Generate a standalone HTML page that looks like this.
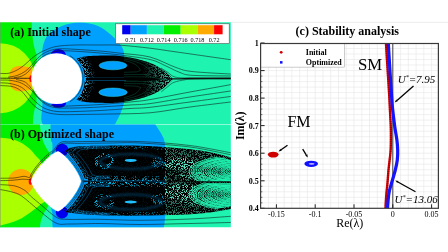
<!DOCTYPE html>
<html><head><meta charset="utf-8"><style>
html,body{margin:0;padding:0;background:#fff;width:448px;height:252px;overflow:hidden}
svg{display:block}
.s{font-family:"Liberation Serif",serif;fill:#000}
</style></head><body>
<svg width="448" height="252" viewBox="0 0 448 252">
<defs><clipPath id="ca"><rect x="0" y="22" width="230.8" height="102.5"/></clipPath><clipPath id="cb"><rect x="0" y="124.5" width="230.8" height="102.7"/></clipPath><clipPath id="cla"><rect x="0" y="0" width="124" height="130"/></clipPath><clipPath id="cra"><rect x="124" y="0" width="120" height="130"/></clipPath><clipPath id="clb"><rect x="0" y="120" width="165.5" height="130"/></clipPath><clipPath id="crb"><rect x="165.5" y="120" width="120" height="130"/></clipPath><filter id="spkB" x="0" y="0" width="1" height="1" filterUnits="objectBoundingBox"><feTurbulence type="fractalNoise" baseFrequency="1.1" numOctaves="2" seed="3"/><feColorMatrix type="matrix" values="0 0 0 0 0.039 0 0 0 0 0.518 0 0 0 0 0.847 9 0 0 0 -4.6"/></filter><filter id="spkA" x="0" y="0" width="1" height="1" filterUnits="objectBoundingBox"><feTurbulence type="fractalNoise" baseFrequency="1.1" numOctaves="2" seed="7"/><feColorMatrix type="matrix" values="0 0 0 0 0.118 0 0 0 0 0.957 0 0 0 0 0.690 9 0 0 0 -4.2"/></filter><filter id="spkB2" x="0" y="0" width="1" height="1" filterUnits="objectBoundingBox"><feTurbulence type="fractalNoise" baseFrequency="1.1" numOctaves="2" seed="11"/><feColorMatrix type="matrix" values="0 0 0 0 0.000 0 0 0 0 0.627 0 0 0 0 1.000 9 0 0 0 -4.8"/></filter><filter id="spkA2" x="0" y="0" width="1" height="1" filterUnits="objectBoundingBox"><feTurbulence type="fractalNoise" baseFrequency="1.1" numOctaves="2" seed="5"/><feColorMatrix type="matrix" values="0 0 0 0 0.118 0 0 0 0 0.957 0 0 0 0 0.690 9 0 0 0 -4.4"/></filter><filter id="blr" x="-0.2" y="-0.5" width="1.4" height="2"><feGaussianBlur stdDeviation="0.8"/></filter><filter id="spkB3" x="-0.1" y="-2" width="1.2" height="5"><feGaussianBlur stdDeviation="0.3"/></filter><linearGradient id="gB1" x1="66" x2="166" y1="0" y2="0" gradientUnits="userSpaceOnUse"><stop offset="0" stop-color="#fff" stop-opacity="1"/><stop offset="0.3" stop-color="#fff" stop-opacity="0.6"/><stop offset="1" stop-color="#fff" stop-opacity="0.5"/></linearGradient><mask id="mB1" maskUnits="userSpaceOnUse" x="0" y="0" width="448" height="252"><rect x="60" y="140" width="106" height="80" fill="url(#gB1)"/></mask><linearGradient id="fadeA" x1="142" x2="180" y1="0" y2="0" gradientUnits="userSpaceOnUse"><stop offset="0" stop-color="#fff" stop-opacity="0"/><stop offset="1" stop-color="#fff" stop-opacity="1"/></linearGradient><radialGradient id="nearCyl" cx="56.6" cy="78.7" r="42" gradientUnits="userSpaceOnUse"><stop offset="0.6" stop-color="#fff" stop-opacity="1"/><stop offset="0.7" stop-color="#fff" stop-opacity="0.9"/><stop offset="0.93" stop-color="#fff" stop-opacity="0"/></radialGradient><mask id="mA" maskUnits="userSpaceOnUse" x="0" y="0" width="448" height="252"><rect x="120" y="40" width="60" height="80" fill="url(#fadeA)"/></mask><mask id="mC" maskUnits="userSpaceOnUse" x="0" y="0" width="448" height="252"><rect x="60" y="40" width="50" height="80" fill="url(#nearCyl)"/></mask></defs>
<g clip-path="url(#ca)">
<rect x="0" y="22" width="231" height="102" fill="#1ef4b0"/>
<path d="M0,22 L31.7,22 C32,34 33,46 36.5,54 L36.5,104 C33.5,111 33,117 33,124 L0,124Z" fill="#00f000"/>
<circle cx="0" cy="78.2" r="35" fill="#aaff00"/>
<path d="M42.6,124 C39.7,118.7 42.7,110.7 42.6,100 C42.5,89.3 42.2,69 42.3,60 C42.4,51 42,50.2 43,46 C44,41.8 45.3,37.8 48.5,34.5 C51.7,31.2 56.8,28 62,26 C67.2,24 74,22.6 80,22.6 C86,22.6 93,24.1 98,26 C103,27.9 106.7,31.3 110,34 C113.3,36.7 115.7,39 118,42 C120.3,45 122.8,46.5 123.8,52 C124.8,57.5 124.2,67 124.3,75 C124.4,83 124.7,94.2 124.3,100 C123.9,105.8 122.8,107 121.8,110 C120.8,113 119.4,115.7 118.3,118 C117.2,120.3 116.2,121.7 115.2,124 C114.2,126.3 121.2,130.7 112,132 C102.8,133.3 71.6,133.3 60,132 C48.4,130.7 45.5,129.3 42.6,124Z" fill="#00a0ff"/>
<path d="M9,78.6 C9,75.8 9.7,72 11,70 C12.3,68 14.7,66.9 17,66.3 C19.3,65.7 22.5,65.9 25,66.5 C27.5,67.1 30.8,66.6 32,70 C33.2,73.4 33.2,83.5 32,87 C30.8,90.5 27.5,90.1 25,90.8 C22.5,91.5 19.3,91.6 17,91 C14.7,90.4 12.3,89.1 11,87 C9.7,84.9 9,81.4 9,78.6Z" fill="#ffaa00"/>
<ellipse cx="31" cy="78.7" rx="1.6" ry="3.4" fill="#ff0000"/>
<ellipse cx="58.3" cy="54.5" rx="7.4" ry="5.4" fill="#0000f0"/>
<ellipse cx="58.6" cy="102.5" rx="7.6" ry="5.3" fill="#0000f0"/>
<path d="M76.5,58.8 L77.07,58.59 L77.83,58.3 L78.75,57.96 L79.78,57.61 L80.88,57.27 L82,57 L83.17,56.78 L84.41,56.59 L85.72,56.41 L87.09,56.26 L88.52,56.12 L90,56 L91.49,55.89 L93,55.81 L94.56,55.74 L96.22,55.68 L98.02,55.64 L100,55.6 L102.23,55.56 L104.7,55.51 L107.31,55.48 L109.96,55.47 L112.56,55.5 L115,55.6 L117.27,55.76 L119.44,55.96 L121.56,56.21 L123.67,56.5 L125.8,56.83 L128,57.2 L130.3,57.62 L132.67,58.08 L135.06,58.58 L137.44,59.12 L139.77,59.7 L142,60.3 L144.15,60.93 L146.26,61.6 L148.31,62.31 L150.3,63.04 L152.2,63.81 L154,64.6 L155.71,65.44 L157.33,66.33 L158.88,67.26 L160.33,68.19 L161.71,69.11 L163,70 L164.21,70.86 L165.33,71.72 L166.38,72.57 L167.33,73.4 L168.21,74.21 L169,75 L169.85,75.82 L170.78,76.67 L171.62,77.51 L172.22,78.26 L172.4,78.88 L172,79.3 L170.96,79.47 L169.41,79.42 L167.44,79.24 L165.15,78.99 L162.64,78.75 L160,78.6 L157.13,78.53 L153.93,78.47 L150.5,78.42 L146.96,78.38 L143.43,78.34 L140,78.3 L136.72,78.26 L133.52,78.22 L130.31,78.18 L127.04,78.15 L123.62,78.12 L120,78.1 L115.95,78.09 L111.48,78.08 L106.88,78.08 L102.41,78.09 L98.36,78.09 L95,78.1 L92.35,78.11 L90.19,78.13 L88.44,78.15 L87.04,78.17 L85.91,78.19 L85,78.2 L84.76,77.22 L84.45,74.29 L83.84,71.4 L82.93,68.59 L81.73,65.9 L80.25,63.34 L78.52,60.95 L76.54,58.76Z" fill="#000"/>
<path d="M76.5,99.6 L77.07,99.81 L77.83,100.1 L78.75,100.44 L79.78,100.79 L80.88,101.13 L82,101.4 L83.17,101.62 L84.41,101.81 L85.72,101.99 L87.09,102.14 L88.52,102.28 L90,102.4 L91.49,102.51 L93,102.59 L94.56,102.66 L96.22,102.72 L98.02,102.76 L100,102.8 L102.23,102.84 L104.7,102.89 L107.31,102.93 L109.96,102.93 L112.56,102.9 L115,102.8 L117.27,102.64 L119.44,102.44 L121.56,102.19 L123.67,101.9 L125.8,101.57 L128,101.2 L130.3,100.78 L132.67,100.32 L135.06,99.82 L137.44,99.28 L139.77,98.7 L142,98.1 L144.15,97.47 L146.26,96.8 L148.31,96.09 L150.3,95.36 L152.2,94.59 L154,93.8 L155.71,92.96 L157.33,92.07 L158.88,91.14 L160.33,90.21 L161.71,89.29 L163,88.4 L164.21,87.54 L165.33,86.68 L166.38,85.83 L167.33,85 L168.21,84.19 L169,83.4 L169.85,82.58 L170.78,81.73 L171.62,80.89 L172.22,80.14 L172.4,79.52 L172,79.1 L170.96,78.93 L169.41,78.98 L167.44,79.16 L165.15,79.41 L162.64,79.65 L160,79.8 L157.13,79.87 L153.93,79.93 L150.5,79.98 L146.96,80.02 L143.43,80.06 L140,80.1 L136.72,80.14 L133.52,80.18 L130.31,80.22 L127.04,80.25 L123.62,80.28 L120,80.3 L115.95,80.31 L111.48,80.32 L106.88,80.32 L102.41,80.31 L98.36,80.31 L95,80.3 L92.35,80.29 L90.19,80.27 L88.44,80.25 L87.04,80.23 L85.91,80.21 L85,80.2 L84.76,81.18 L84.45,84.11 L83.84,87 L82.93,89.81 L81.73,92.5 L80.25,95.06 L78.52,97.45 L76.54,99.64Z" fill="#000"/>
<clipPath id="wkA"><path d="M76.5,58.8 L77.07,58.59 L77.83,58.3 L78.75,57.96 L79.78,57.61 L80.88,57.27 L82,57 L83.17,56.78 L84.41,56.59 L85.72,56.41 L87.09,56.26 L88.52,56.12 L90,56 L91.49,55.89 L93,55.81 L94.56,55.74 L96.22,55.68 L98.02,55.64 L100,55.6 L102.23,55.56 L104.7,55.51 L107.31,55.48 L109.96,55.47 L112.56,55.5 L115,55.6 L117.27,55.76 L119.44,55.96 L121.56,56.21 L123.67,56.5 L125.8,56.83 L128,57.2 L130.3,57.62 L132.67,58.08 L135.06,58.58 L137.44,59.12 L139.77,59.7 L142,60.3 L144.15,60.93 L146.26,61.6 L148.31,62.31 L150.3,63.04 L152.2,63.81 L154,64.6 L155.71,65.44 L157.33,66.33 L158.88,67.26 L160.33,68.19 L161.71,69.11 L163,70 L164.21,70.86 L165.33,71.72 L166.38,72.57 L167.33,73.4 L168.21,74.21 L169,75 L169.85,75.82 L170.78,76.67 L171.62,77.51 L172.22,78.26 L172.4,78.88 L172,79.3 L170.96,79.47 L169.41,79.42 L167.44,79.24 L165.15,78.99 L162.64,78.75 L160,78.6 L157.13,78.53 L153.93,78.47 L150.5,78.42 L146.96,78.38 L143.43,78.34 L140,78.3 L136.72,78.26 L133.52,78.22 L130.31,78.18 L127.04,78.15 L123.62,78.12 L120,78.1 L115.95,78.09 L111.48,78.08 L106.88,78.08 L102.41,78.09 L98.36,78.09 L95,78.1 L92.35,78.11 L90.19,78.13 L88.44,78.15 L87.04,78.17 L85.91,78.19 L85,78.2 L84.76,77.22 L84.45,74.29 L83.84,71.4 L82.93,68.59 L81.73,65.9 L80.25,63.34 L78.52,60.95 L76.54,58.76Z"/><path d="M76.5,99.6 L77.07,99.81 L77.83,100.1 L78.75,100.44 L79.78,100.79 L80.88,101.13 L82,101.4 L83.17,101.62 L84.41,101.81 L85.72,101.99 L87.09,102.14 L88.52,102.28 L90,102.4 L91.49,102.51 L93,102.59 L94.56,102.66 L96.22,102.72 L98.02,102.76 L100,102.8 L102.23,102.84 L104.7,102.89 L107.31,102.93 L109.96,102.93 L112.56,102.9 L115,102.8 L117.27,102.64 L119.44,102.44 L121.56,102.19 L123.67,101.9 L125.8,101.57 L128,101.2 L130.3,100.78 L132.67,100.32 L135.06,99.82 L137.44,99.28 L139.77,98.7 L142,98.1 L144.15,97.47 L146.26,96.8 L148.31,96.09 L150.3,95.36 L152.2,94.59 L154,93.8 L155.71,92.96 L157.33,92.07 L158.88,91.14 L160.33,90.21 L161.71,89.29 L163,88.4 L164.21,87.54 L165.33,86.68 L166.38,85.83 L167.33,85 L168.21,84.19 L169,83.4 L169.85,82.58 L170.78,81.73 L171.62,80.89 L172.22,80.14 L172.4,79.52 L172,79.1 L170.96,78.93 L169.41,78.98 L167.44,79.16 L165.15,79.41 L162.64,79.65 L160,79.8 L157.13,79.87 L153.93,79.93 L150.5,79.98 L146.96,80.02 L143.43,80.06 L140,80.1 L136.72,80.14 L133.52,80.18 L130.31,80.22 L127.04,80.25 L123.62,80.28 L120,80.3 L115.95,80.31 L111.48,80.32 L106.88,80.32 L102.41,80.31 L98.36,80.31 L95,80.3 L92.35,80.29 L90.19,80.27 L88.44,80.25 L87.04,80.23 L85.91,80.21 L85,80.2 L84.76,81.18 L84.45,84.11 L83.84,87 L82.93,89.81 L81.73,92.5 L80.25,95.06 L78.52,97.45 L76.54,99.64Z"/></clipPath>
<g clip-path="url(#wkA)"><rect x="120" y="50" width="55" height="60" filter="url(#spkA)" mask="url(#mA)"/><rect x="66" y="50" width="40" height="60" filter="url(#spkB)" mask="url(#mC)"/></g>
<path d="M136.89,65.5 L138.97,67.77 L140.44,70.34 L136.93,71.91 L131.06,72.07 L127.42,72.22 L124.82,72.32 L122.84,72.39 L121.27,72.44 L119.98,72.48 L118.88,72.5 L117.92,72.52 L117.06,72.54 L116.29,72.55 L115.57,72.56 L114.89,72.56 L114.25,72.57 L113.62,72.57 L113,72.57 L112.38,72.57 L111.75,72.56 L111.11,72.56 L110.43,72.55 L109.72,72.54 L108.94,72.53 L108.09,72.51 L107.14,72.49 L106.04,72.46 L104.76,72.42 L103.2,72.36 L101.25,72.28 L98.67,72.18 L97.41,71.17 L96.29,69.98 L95.04,68.67 L93.86,67.17 L93.07,65.5 L92.8,63.73 L92.68,61.92 L95.38,60.78 L98.42,60.19 L100.95,59.88 L102.95,59.7 L104.56,59.59 L105.87,59.52 L106.96,59.46 L107.9,59.42 L108.72,59.39 L109.46,59.37 L110.13,59.35 L110.76,59.34 L111.35,59.33 L111.91,59.33 L112.46,59.33 L113,59.34 L113.54,59.36 L114.08,59.37 L114.64,59.39 L115.21,59.42 L115.82,59.46 L116.46,59.51 L117.16,59.56 L117.92,59.63 L118.77,59.73 L119.74,59.84 L120.86,60 L122.18,60.2 L123.77,60.48 L125.7,60.88 L128.07,61.46 L130.89,62.35 L133.99,63.66Z" fill="none" stroke="#1ef4b0" stroke-width="0.35" opacity="0.5" clip-path="url(#cra)"/>
<path d="M144.17,65.5 L148.13,68.57 L151.61,72.31 L146.73,74.54 L137.74,74.5 L132.44,74.56 L128.76,74.6 L126.03,74.62 L123.89,74.64 L122.15,74.65 L120.69,74.66 L119.42,74.67 L118.3,74.68 L117.28,74.68 L116.34,74.69 L115.46,74.69 L114.62,74.69 L113.8,74.69 L113,74.69 L112.2,74.69 L111.38,74.69 L110.54,74.68 L109.66,74.68 L108.72,74.67 L107.71,74.67 L106.59,74.66 L105.33,74.64 L103.88,74.62 L102.15,74.6 L100.05,74.57 L97.36,74.53 L93.71,74.49 L92.49,72.97 L91.65,71.22 L90.64,69.44 L89.58,67.55 L88.62,65.5 L87.76,63.29 L86.6,60.85 L90.09,59.36 L94.22,58.67 L97.62,58.33 L100.28,58.16 L102.38,58.06 L104.06,58 L105.45,57.95 L106.64,57.92 L107.67,57.89 L108.59,57.87 L109.44,57.86 L110.22,57.85 L110.95,57.85 L111.65,57.85 L112.33,57.86 L113,57.87 L113.67,57.89 L114.34,57.92 L115.02,57.95 L115.73,57.99 L116.48,58.04 L117.27,58.11 L118.12,58.19 L119.05,58.28 L120.09,58.41 L121.27,58.56 L122.63,58.76 L124.23,59.02 L126.17,59.36 L128.56,59.84 L131.54,60.53 L135.23,61.58 L139.58,63.17Z" fill="none" stroke="#1ef4b0" stroke-width="0.35" opacity="0.5" clip-path="url(#cra)"/>
<path d="M151.45,65.5 L157.29,69.38 L162.78,74.28 L156.53,77.16 L144.42,76.94 L137.45,76.9 L132.7,76.87 L129.21,76.85 L126.51,76.84 L124.33,76.83 L122.5,76.82 L120.93,76.82 L119.53,76.82 L118.28,76.82 L117.12,76.81 L116.03,76.81 L114.99,76.81 L113.99,76.81 L113,76.81 L112.01,76.81 L111.01,76.81 L109.97,76.81 L108.89,76.81 L107.73,76.8 L106.48,76.8 L105.09,76.8 L103.52,76.79 L101.71,76.79 L99.55,76.78 L96.9,76.78 L93.47,76.77 L88.76,76.8 L87.57,74.76 L87.01,72.46 L86.24,70.22 L85.3,67.92 L84.17,65.5 L82.72,62.85 L80.52,59.77 L84.8,57.94 L90.02,57.14 L94.3,56.78 L97.61,56.61 L100.2,56.54 L102.26,56.49 L103.95,56.45 L105.38,56.41 L106.62,56.39 L107.73,56.37 L108.74,56.37 L109.67,56.36 L110.55,56.36 L111.39,56.37 L112.2,56.38 L113,56.4 L113.79,56.43 L114.59,56.46 L115.41,56.51 L116.25,56.57 L117.14,56.63 L118.07,56.71 L119.08,56.81 L120.19,56.93 L121.41,57.09 L122.8,57.27 L124.4,57.52 L126.29,57.83 L128.57,58.24 L131.41,58.8 L135.01,59.6 L139.58,60.81 L145.18,62.68Z" fill="none" stroke="#1ef4b0" stroke-width="0.35" opacity="0.5" clip-path="url(#cra)"/>
<path d="M137.27,92.3 L134.45,94.18 L131.33,95.53 L128.48,96.45 L126.07,97.06 L124.09,97.47 L122.46,97.76 L121.1,97.97 L119.95,98.14 L118.96,98.26 L118.08,98.36 L117.29,98.43 L116.58,98.49 L115.91,98.54 L115.29,98.58 L114.69,98.61 L114.12,98.64 L113.56,98.65 L113,98.67 L112.44,98.68 L111.88,98.68 L111.29,98.68 L110.68,98.67 L110.03,98.66 L109.34,98.64 L108.58,98.62 L107.72,98.59 L106.76,98.54 L105.63,98.49 L104.27,98.41 L102.61,98.3 L100.55,98.11 L97.97,97.77 L94.99,97.13 L92.91,95.84 L92.96,94.05 L93.18,92.3 L93.94,90.63 L95.1,89.14 L96.34,87.83 L97.43,86.63 L99.13,85.83 L101.62,85.73 L103.5,85.65 L105.01,85.59 L106.25,85.55 L107.31,85.52 L108.24,85.5 L109.06,85.48 L109.81,85.47 L110.51,85.46 L111.16,85.45 L111.79,85.45 L112.4,85.44 L113,85.44 L113.6,85.44 L114.21,85.44 L114.84,85.45 L115.49,85.45 L116.19,85.46 L116.94,85.47 L117.77,85.49 L118.7,85.51 L119.76,85.54 L121.02,85.57 L122.54,85.62 L124.45,85.69 L126.96,85.79 L130.46,85.95 L135.95,86.15 L140.71,87.41 L139.31,90Z" fill="none" stroke="#1ef4b0" stroke-width="0.35" opacity="0.5" clip-path="url(#cra)"/>
<path d="M144.83,92.3 L140.37,94.69 L136,96.35 L132.25,97.46 L129.18,98.19 L126.72,98.7 L124.71,99.06 L123.05,99.34 L121.63,99.55 L120.41,99.71 L119.33,99.84 L118.35,99.95 L117.46,100.03 L116.64,100.1 L115.86,100.16 L115.12,100.2 L114.4,100.24 L113.7,100.27 L113,100.29 L112.3,100.3 L111.59,100.31 L110.85,100.31 L110.09,100.31 L109.27,100.3 L108.39,100.29 L107.42,100.27 L106.34,100.24 L105.1,100.2 L103.64,100.15 L101.88,100.09 L99.69,99.98 L96.94,99.79 L93.46,99.41 L89.41,98.62 L86.99,96.89 L88.04,94.48 L88.81,92.3 L89.72,90.26 L90.75,88.38 L91.72,86.6 L92.53,84.85 L94.51,83.68 L97.99,83.64 L100.57,83.59 L102.58,83.56 L104.24,83.54 L105.63,83.52 L106.84,83.5 L107.92,83.49 L108.89,83.49 L109.79,83.48 L110.64,83.48 L111.44,83.47 L112.23,83.47 L113,83.47 L113.77,83.47 L114.56,83.47 L115.37,83.47 L116.21,83.47 L117.11,83.48 L118.09,83.48 L119.17,83.49 L120.39,83.5 L121.79,83.51 L123.46,83.52 L125.51,83.54 L128.12,83.57 L131.64,83.61 L136.72,83.67 L145.05,83.71 L152.08,85.41 L148.71,89.18Z" fill="none" stroke="#1ef4b0" stroke-width="0.35" opacity="0.5" clip-path="url(#cra)"/>
<path d="M152.38,92.3 L146.3,95.21 L140.66,97.18 L136.02,98.47 L132.3,99.33 L129.35,99.92 L126.96,100.36 L124.99,100.7 L123.32,100.96 L121.86,101.16 L120.58,101.33 L119.41,101.46 L118.35,101.57 L117.36,101.66 L116.43,101.73 L115.54,101.79 L114.68,101.84 L113.84,101.88 L113,101.91 L112.16,101.93 L111.3,101.94 L110.41,101.95 L109.49,101.95 L108.5,101.94 L107.44,101.93 L106.27,101.91 L104.96,101.89 L103.45,101.85 L101.66,101.81 L99.49,101.76 L96.78,101.67 L93.33,101.47 L88.94,101.06 L83.84,100.11 L81.07,97.93 L83.12,94.91 L84.44,92.3 L85.5,89.89 L86.4,87.61 L87.11,85.36 L87.62,83.06 L89.89,81.52 L94.37,81.54 L97.63,81.54 L100.16,81.53 L102.22,81.52 L103.95,81.52 L105.45,81.51 L106.77,81.51 L107.97,81.51 L109.07,81.5 L110.11,81.5 L111.1,81.5 L112.06,81.5 L113,81.5 L113.95,81.5 L114.9,81.5 L115.89,81.5 L116.93,81.5 L118.04,81.49 L119.24,81.49 L120.57,81.49 L122.07,81.49 L123.82,81.48 L125.9,81.48 L128.47,81.47 L131.8,81.45 L136.33,81.42 L142.97,81.39 L154.15,81.27 L163.44,83.41 L158.11,88.35Z" fill="none" stroke="#1ef4b0" stroke-width="0.35" opacity="0.5" clip-path="url(#cra)"/>
<ellipse cx="113" cy="65.5" rx="13.9" ry="4.3" fill="#00a0ff" stroke="#30d0e0" stroke-width="0.5"/>
<ellipse cx="113" cy="92.3" rx="14.2" ry="4.3" fill="#00a0ff" stroke="#30d0e0" stroke-width="0.5"/>
<path d="M86,77.8 L150,77.8 L168,79 L150,80.8 L86,80.8Z" fill="#000"/>
<line x1="84" y1="80.3" x2="126" y2="80.3" stroke="#00a0ff" stroke-width="0.5" opacity="0.8"/>
<line x1="84" y1="77.6" x2="124" y2="77.6" stroke="#00a0ff" stroke-width="0.4" opacity="0.5"/>
<path d="M69.9,55.7 A26.6,26.6 0 0 1 69.9,101.7" fill="none" stroke="#000" stroke-width="0.5"/>
<path d="M0,73.4 C1.5,73.4 6,73.9 9,73.2 C12,72.5 15.3,71 18,69.5 C20.7,68 22.8,66.2 25,64.5 C27.2,62.8 29,60.7 31,59 C33,57.3 34.7,56 37,54.5 C39.3,53 41.8,51.6 45,50.3 C48.2,49 51,47.4 56,46.5 C61,45.6 67.7,45.2 75,45 C82.3,44.8 92.5,45 100,45 C107.5,45 111.7,44.7 120,45.2 C128.3,45.7 140.7,47.1 150,48.2 C159.3,49.3 162.3,50 176,51.9 C189.7,53.8 222.7,58.6 232,59.9" stroke="#111" stroke-width="0.55" fill="none" opacity="1"/>
<path d="M8,77.2 C9.5,76.9 14.2,76.5 17,75.5 C19.8,74.5 22.7,73.1 25,71.5 C27.3,69.9 29.2,67.9 31,66 C32.8,64.1 34.2,61.9 36,60 C37.8,58.1 39.7,56.1 42,54.5 C44.3,52.9 47,51.5 50,50.5 C53,49.5 55.8,49 60,48.8 C64.2,48.6 68.3,48.9 75,49.3 C81.7,49.7 92.5,50.4 100,51 C107.5,51.6 111.7,52.2 120,53.2 C128.3,54.2 140.7,54.6 150,57 C159.3,59.4 169,65.1 176,67.5 C183,69.9 182.7,70.4 192,71.5 C201.3,72.6 225.3,73.7 232,74.1" stroke="#111" stroke-width="0.55" fill="none" opacity="1"/>
<path d="M14,77.8 C15.3,77.5 19.7,77 22,76 C24.3,75 26.2,73.7 28,72 C29.8,70.3 31.3,67.9 33,66 C34.7,64.1 36,62.3 38,60.5 C40,58.7 42.5,56.4 45,55 C47.5,53.6 50.2,52.7 53,52 C55.8,51.3 57.5,50.9 62,50.8 C66.5,50.7 73.7,51.1 80,51.5 C86.3,51.9 93.3,52.4 100,53 C106.7,53.6 111.7,53.9 120,55 C128.3,56.1 142.3,57.7 150,59.5 C157.7,61.3 161,63.8 166,66 C171,68.2 175.7,71 180,72.5 C184.3,74 183.3,74.7 192,75.3 C200.7,75.9 225.3,75.9 232,76" stroke="#111" stroke-width="0.55" fill="none" opacity="1"/>
<path d="M0,80.1 C1.7,80.1 6.7,79.9 10,80.3 C13.3,80.7 17.2,81.5 20,82.5 C22.8,83.5 24.8,84.9 27,86.5 C29.2,88.1 31.2,90.1 33,92 C34.8,93.9 36,96 38,98 C40,100 42.2,102.4 45,104 C47.8,105.6 50,106.9 55,107.6 C60,108.3 67.5,108.1 75,108 C82.5,107.9 90.8,107.5 100,107 C109.2,106.5 121.7,105.6 130,105 C138.3,104.4 140,104.9 150,103.6 C160,102.3 176.3,99.1 190,97 C203.7,94.9 225,91.8 232,90.8" stroke="#111" stroke-width="0.55" fill="none" opacity="1"/>
<path d="M0,82.8 C1.7,82.9 6.7,82.9 10,83.5 C13.3,84.1 17.3,85.2 20,86.5 C22.7,87.8 24.2,89.2 26,91 C27.8,92.8 29.2,95 31,97 C32.8,99 34.7,101.1 37,103 C39.3,104.9 41.7,107.1 45,108.5 C48.3,109.9 52,111 57,111.5 C62,112 67.8,111.7 75,111.5 C82.2,111.3 90.8,111 100,110.5 C109.2,110 121.7,109 130,108.5 C138.3,108 140,108.4 150,107.3 C160,106.2 176.3,103.8 190,102 C203.7,100.2 225,97.2 232,96.3" stroke="#111" stroke-width="0.55" fill="none" opacity="1"/>
<path d="M0,85.5 C2,85.7 8.7,85.8 12,86.5 C15.3,87.2 17.8,88.6 20,90 C22.2,91.4 23.3,93.1 25,95 C26.7,96.9 28,99.3 30,101.5 C32,103.7 34.2,106.2 37,108 C39.8,109.8 43.2,111.4 47,112.5 C50.8,113.6 54.5,114.2 60,114.5 C65.5,114.8 71.7,114.6 80,114.5 C88.3,114.4 98.3,114.3 110,114 C121.7,113.7 136.7,114 150,112.8 C163.3,111.6 176.3,108.8 190,107 C203.7,105.2 225,102.7 232,101.8" stroke="#111" stroke-width="0.55" fill="none" opacity="1"/>
<path d="M16,79.5 C17.3,79.8 21.8,80.5 24,81.5 C26.2,82.5 27.3,83.8 29,85.5 C30.7,87.2 32.2,89.8 34,92 C35.8,94.2 37.7,97 40,99 C42.3,101 45,103.1 48,104.3 C51,105.5 52.7,106 58,106.2 C63.3,106.4 73,105.8 80,105.5 C87,105.2 91.7,105.1 100,104.5 C108.3,103.9 121.7,102.8 130,102 C138.3,101.2 140,101.3 150,99.6 C160,97.9 176.3,94.5 190,92 C203.7,89.5 225,85.7 232,84.4" stroke="#111" stroke-width="0.55" fill="none" opacity="1"/>
<path d="M0,78.2 C5,78.2 25,78.3 30,78.3" stroke="#111" stroke-width="0.8" fill="none" opacity="1"/>
<path d="M166,78.6 C167.5,78.6 171,78.9 175,78.9 C179,78.9 180.5,78.6 190,78.5 C199.5,78.4 225,78.4 232,78.4" stroke="#111" stroke-width="1.3" fill="none" opacity="1"/>
<path d="M161,68 C162.2,68.8 165.7,71 168,72.5 C170.3,74 171.3,76.1 175,77 C178.7,77.9 180.5,77.9 190,78 C199.5,78.1 225,77.8 232,77.8" stroke="#111" stroke-width="0.5" fill="none" opacity="1"/>
<path d="M161.4,91.8 C162.5,90.9 165.9,88.1 168,86.5 C170.1,84.9 171.2,83.4 174,82.3 C176.8,81.2 182,80.3 185,79.8 C188,79.3 184.2,79.3 192,79.2 C199.8,79.1 225.3,79.2 232,79.2" stroke="#111" stroke-width="0.5" fill="none" opacity="1"/>
<circle cx="56.6" cy="78.7" r="25.4" fill="#fff"/>
</g>
<g clip-path="url(#cb)">
<rect x="0" y="123" width="231" height="105" fill="#1ef4b0"/>
<path d="M0,123 L39.8,123 C40.5,135 43,144 49,152 L49,205 C44,212 40,220 40,228 L0,228Z" fill="#00f000"/>
<path d="M-12,137 C-10.3,122.3 -5.3,137.3 -2,137.6 C1.4,137.9 4.5,137.9 8.1,138.6 C11.7,139.3 16,140.3 19.5,141.9 C23,143.5 26.6,146.1 29.3,148.4 C32,150.7 33.8,153.3 35.8,155.7 C37.8,158.1 39.8,158.8 41.5,163 C43.2,167.2 45.2,175 46,181 C46.8,187 47,195 46,199 C45,203 42.5,202.6 40,204.8 C37.5,207 34.7,209.5 31,212 C27.3,214.5 23.2,217.8 18,220 C12.8,222.2 5,224.4 0,225.4 C-5,226.4 -10,240.7 -12,226 C-14,211.3 -13.7,151.7 -12,137Z" fill="#aaff00"/>
<path d="M50.5,110 C33.9,112.1 50.6,118.8 50.6,122.5 C50.6,126.2 50.5,129 50.6,132 C50.7,135 50.7,137.8 51,140.3 C51.3,142.8 52.7,140.4 52.5,147 C52.3,153.6 50.2,170.3 50,180 C49.8,189.7 50.6,199.2 51,205 C51.4,210.8 52.2,211.1 52.5,215 C52.8,218.9 51.8,224.3 53,228.5 C54.2,232.7 42.2,238.1 60,240 C77.8,241.9 142.7,241.9 160,240 C177.3,238.1 162.8,233.2 163.7,228.5 C164.6,223.8 165.2,217.6 165.5,212 C165.8,206.4 165.8,203.7 165.8,195 C165.8,186.3 165.7,168.7 165.5,160 C165.3,151.3 165.3,146.9 164.7,142.6 C164,138.3 163.3,137.7 161.6,134.3 C159.9,131 156.3,126.5 154.4,122.5 C152.5,118.5 167.3,112.1 150,110 C132.7,107.9 67.1,107.9 50.5,110Z" fill="#00a0ff"/>
<circle cx="21" cy="182" r="13" fill="#ffaa00"/>
<ellipse cx="30.5" cy="181.6" rx="1.8" ry="3.2" fill="#ff0000"/>
<circle cx="62.1" cy="150" r="6.3" fill="#0000f0"/>
<circle cx="62" cy="212.3" r="6.2" fill="#0000f0"/>
<path d="M70,147.8 L70.97,147.63 L72.22,147.38 L73.75,147.09 L75.56,146.79 L77.64,146.52 L80,146.3 L82.52,146.14 L85.19,146.01 L88.12,145.91 L91.48,145.82 L95.39,145.75 L100,145.7 L105.51,145.64 L111.85,145.56 L118.75,145.5 L125.93,145.49 L133.1,145.54 L140,145.7 L146.78,145.97 L153.7,146.33 L160.62,146.76 L167.41,147.24 L173.91,147.76 L180,148.3 L185.58,148.83 L190.74,149.36 L195.62,149.92 L200.37,150.56 L205.12,151.31 L210,152.2 L215.35,153.36 L221.11,154.8 L226.88,156.34 L232.22,157.83 L236.74,159.11 L240,160 L246,170 L240,180.3 L240,180.3 L235.76,180.26 L230,180.19 L223.12,180.12 L215.56,180.04 L207.71,179.97 L200,179.9 L192.25,179.84 L184.07,179.79 L175.62,179.74 L167.04,179.7 L158.45,179.65 L150,179.6 L141.23,179.55 L131.93,179.49 L122.62,179.44 L113.85,179.39 L106.13,179.34 L100,179.3 L95.66,179.27 L92.74,179.25 L90.88,179.23 L89.7,179.22 L88.87,179.21 L88,179.2 L84.67,178.61 L84.29,177.49 L83.82,176.26 L83.25,174.93 L82.6,173.52 L81.86,172.05 L81.04,170.52 L80.14,168.95 L79.17,167.36 L78.14,165.75 L77.06,164.15 L75.93,162.55 L74.76,160.99 L73.56,159.46 L72.33,157.98 L71.1,156.57 L69.86,155.22 L68.63,153.95 L67.42,152.77 L66.23,151.68 L65.08,150.7Z" fill="#000"/>
<path d="M88,183.6 L88.87,183.58 L89.7,183.54 L90.88,183.5 L92.74,183.46 L95.66,183.42 L100,183.4 L106.13,183.38 L113.85,183.37 L122.62,183.36 L131.93,183.36 L141.23,183.37 L150,183.4 L158.45,183.44 L167.04,183.49 L175.62,183.56 L184.07,183.63 L192.25,183.71 L200,183.8 L207.71,183.91 L215.56,184.04 L223.12,184.18 L230,184.31 L235.76,184.42 L240,184.5 L246,196 L240,207 L240,207 L235.88,207.77 L230.37,208.88 L223.75,210.18 L216.3,211.5 L208.29,212.69 L200,213.6 L190.98,214.23 L180.93,214.7 L170.31,215.05 L159.63,215.3 L149.36,215.47 L140,215.6 L131.38,215.67 L123.07,215.64 L115.19,215.55 L107.81,215.4 L101.05,215.21 L95,215 L89.63,214.72 L84.85,214.36 L80.69,213.96 L77.15,213.57 L74.25,213.23 L72,213 L65.08,211.9 L66.23,210.92 L67.42,209.83 L68.63,208.65 L69.86,207.38 L71.1,206.03 L72.33,204.62 L73.56,203.14 L74.76,201.61 L75.93,200.05 L77.06,198.45 L78.14,196.85 L79.17,195.24 L80.14,193.65 L81.04,192.08 L81.86,190.55 L82.6,189.08 L83.25,187.67 L83.82,186.34 L84.29,185.11 L84.67,183.99Z" fill="#000"/>
<rect x="88" y="179" width="150" height="5" fill="#000"/>
<clipPath id="wkB"><path d="M70,147.8 L70.97,147.63 L72.22,147.38 L73.75,147.09 L75.56,146.79 L77.64,146.52 L80,146.3 L82.52,146.14 L85.19,146.01 L88.12,145.91 L91.48,145.82 L95.39,145.75 L100,145.7 L105.51,145.64 L111.85,145.56 L118.75,145.5 L125.93,145.49 L133.1,145.54 L140,145.7 L146.78,145.97 L153.7,146.33 L160.62,146.76 L167.41,147.24 L173.91,147.76 L180,148.3 L185.58,148.83 L190.74,149.36 L195.62,149.92 L200.37,150.56 L205.12,151.31 L210,152.2 L215.35,153.36 L221.11,154.8 L226.88,156.34 L232.22,157.83 L236.74,159.11 L240,160 L246,170 L240,180.3 L240,180.3 L235.76,180.26 L230,180.19 L223.12,180.12 L215.56,180.04 L207.71,179.97 L200,179.9 L192.25,179.84 L184.07,179.79 L175.62,179.74 L167.04,179.7 L158.45,179.65 L150,179.6 L141.23,179.55 L131.93,179.49 L122.62,179.44 L113.85,179.39 L106.13,179.34 L100,179.3 L95.66,179.27 L92.74,179.25 L90.88,179.23 L89.7,179.22 L88.87,179.21 L88,179.2 L84.67,178.61 L84.29,177.49 L83.82,176.26 L83.25,174.93 L82.6,173.52 L81.86,172.05 L81.04,170.52 L80.14,168.95 L79.17,167.36 L78.14,165.75 L77.06,164.15 L75.93,162.55 L74.76,160.99 L73.56,159.46 L72.33,157.98 L71.1,156.57 L69.86,155.22 L68.63,153.95 L67.42,152.77 L66.23,151.68 L65.08,150.7Z"/><path d="M88,183.6 L88.87,183.58 L89.7,183.54 L90.88,183.5 L92.74,183.46 L95.66,183.42 L100,183.4 L106.13,183.38 L113.85,183.37 L122.62,183.36 L131.93,183.36 L141.23,183.37 L150,183.4 L158.45,183.44 L167.04,183.49 L175.62,183.56 L184.07,183.63 L192.25,183.71 L200,183.8 L207.71,183.91 L215.56,184.04 L223.12,184.18 L230,184.31 L235.76,184.42 L240,184.5 L246,196 L240,207 L240,207 L235.88,207.77 L230.37,208.88 L223.75,210.18 L216.3,211.5 L208.29,212.69 L200,213.6 L190.98,214.23 L180.93,214.7 L170.31,215.05 L159.63,215.3 L149.36,215.47 L140,215.6 L131.38,215.67 L123.07,215.64 L115.19,215.55 L107.81,215.4 L101.05,215.21 L95,215 L89.63,214.72 L84.85,214.36 L80.69,213.96 L77.15,213.57 L74.25,213.23 L72,213 L65.08,211.9 L66.23,210.92 L67.42,209.83 L68.63,208.65 L69.86,207.38 L71.1,206.03 L72.33,204.62 L73.56,203.14 L74.76,201.61 L75.93,200.05 L77.06,198.45 L78.14,196.85 L79.17,195.24 L80.14,193.65 L81.04,192.08 L81.86,190.55 L82.6,189.08 L83.25,187.67 L83.82,186.34 L84.29,185.11 L84.67,183.99Z"/><rect x="88" y="179" width="150" height="5"/></clipPath>
<g clip-path="url(#wkB)">
<mask id="mB2" maskUnits="userSpaceOnUse" x="0" y="0" width="448" height="252"><rect x="60" y="140" width="106" height="80" fill="#fff" opacity="0.06"/><path d="M70,147.8 L70.97,147.63 L72.22,147.38 L73.75,147.09 L75.56,146.79 L77.64,146.52 L80,146.3 L82.52,146.14 L85.19,146.01 L88.12,145.91 L91.48,145.82 L95.39,145.75 L100,145.7 L105.51,145.64 L111.85,145.56 L118.75,145.5 L125.93,145.49 L133.1,145.54 L140,145.7 L146.78,145.97 L153.7,146.33 L160.62,146.76 L167.41,147.24 L173.91,147.76 L180,148.3 L185.58,148.83 L190.74,149.36 L195.62,149.92 L200.37,150.56 L205.12,151.31 L210,152.2 L215.35,153.36 L221.11,154.8 L226.88,156.34 L232.22,157.83 L236.74,159.11 L240,160 L246,170 L240,180.3 L240,180.3 L235.76,180.26 L230,180.19 L223.12,180.12 L215.56,180.04 L207.71,179.97 L200,179.9 L192.25,179.84 L184.07,179.79 L175.62,179.74 L167.04,179.7 L158.45,179.65 L150,179.6 L141.23,179.55 L131.93,179.49 L122.62,179.44 L113.85,179.39 L106.13,179.34 L100,179.3 L95.66,179.27 L92.74,179.25 L90.88,179.23 L89.7,179.22 L88.87,179.21 L88,179.2 L84.67,178.61 L84.29,177.49 L83.82,176.26 L83.25,174.93 L82.6,173.52 L81.86,172.05 L81.04,170.52 L80.14,168.95 L79.17,167.36 L78.14,165.75 L77.06,164.15 L75.93,162.55 L74.76,160.99 L73.56,159.46 L72.33,157.98 L71.1,156.57 L69.86,155.22 L68.63,153.95 L67.42,152.77 L66.23,151.68 L65.08,150.7Z" stroke="#fff" stroke-width="7" fill="none" opacity="0.4"/><path d="M88,183.6 L88.87,183.58 L89.7,183.54 L90.88,183.5 L92.74,183.46 L95.66,183.42 L100,183.4 L106.13,183.38 L113.85,183.37 L122.62,183.36 L131.93,183.36 L141.23,183.37 L150,183.4 L158.45,183.44 L167.04,183.49 L175.62,183.56 L184.07,183.63 L192.25,183.71 L200,183.8 L207.71,183.91 L215.56,184.04 L223.12,184.18 L230,184.31 L235.76,184.42 L240,184.5 L246,196 L240,207 L240,207 L235.88,207.77 L230.37,208.88 L223.75,210.18 L216.3,211.5 L208.29,212.69 L200,213.6 L190.98,214.23 L180.93,214.7 L170.31,215.05 L159.63,215.3 L149.36,215.47 L140,215.6 L131.38,215.67 L123.07,215.64 L115.19,215.55 L107.81,215.4 L101.05,215.21 L95,215 L89.63,214.72 L84.85,214.36 L80.69,213.96 L77.15,213.57 L74.25,213.23 L72,213 L65.08,211.9 L66.23,210.92 L67.42,209.83 L68.63,208.65 L69.86,207.38 L71.1,206.03 L72.33,204.62 L73.56,203.14 L74.76,201.61 L75.93,200.05 L77.06,198.45 L78.14,196.85 L79.17,195.24 L80.14,193.65 L81.04,192.08 L81.86,190.55 L82.6,189.08 L83.25,187.67 L83.82,186.34 L84.29,185.11 L84.67,183.99Z" stroke="#fff" stroke-width="7" fill="none" opacity="0.4"/><ellipse cx="104" cy="161" rx="8" ry="6" fill="none" stroke="#fff" stroke-width="4" opacity="0.8"/><ellipse cx="104" cy="202" rx="8" ry="6" fill="none" stroke="#fff" stroke-width="4" opacity="0.8"/><ellipse cx="159" cy="163" rx="8" ry="6" fill="#fff" opacity="0.6"/><ellipse cx="159" cy="199" rx="8" ry="6" fill="#fff" opacity="0.6"/><rect x="80" y="179.5" width="90" height="4" fill="#fff" opacity="0.9"/><rect x="86" y="176.5" width="80" height="10" fill="#fff" opacity="0.35"/></mask>
<rect x="60" y="140" width="106" height="80" filter="url(#spkB2)" mask="url(#mB2)"/>
<g filter="url(#blr)" opacity="0.3" clip-path="url(#clb)"><ellipse cx="131" cy="161.5" rx="31" ry="7.5" fill="none" stroke="#00a0ff" stroke-width="2.2"/><ellipse cx="131" cy="202" rx="31" ry="7.5" fill="none" stroke="#00a0ff" stroke-width="2.2"/></g>
<clipPath id="lftB"><rect x="60" y="140" width="50" height="80"/></clipPath>
<path d="M221.6,160.4 L225.5,167.03 L223.27,173.41 L207.61,176.75 L187.15,176.59 L175,176.52 L166.84,176.49 L160.92,176.47 L156.38,176.45 L152.77,176.43 L149.79,176.42 L147.28,176.41 L145.1,176.4 L143.19,176.39 L141.48,176.38 L139.92,176.37 L138.49,176.36 L137.15,176.36 L135.88,176.35 L134.67,176.34 L133.51,176.34 L132.37,176.33 L131.26,176.32 L130.14,176.32 L129.03,176.31 L127.9,176.3 L126.74,176.3 L125.54,176.29 L124.28,176.28 L122.96,176.27 L121.54,176.26 L120.01,176.25 L118.32,176.24 L116.45,176.23 L114.32,176.22 L111.87,176.2 L108.98,176.18 L105.49,176.15 L101.14,176.12 L95.54,176.06 L91.98,174.49 L90.77,171.85 L89.33,169.19 L87.64,166.45 L85.68,163.55 L83.37,160.4 L80.52,156.89 L76.5,152.78 L80.74,149.78 L89.44,148.57 L97.29,148.24 L103.15,148.13 L107.52,148.07 L110.9,148.03 L113.62,147.99 L115.88,147.96 L117.8,147.94 L119.47,147.93 L120.95,147.92 L122.28,147.91 L123.49,147.91 L124.61,147.91 L125.65,147.9 L126.64,147.9 L127.59,147.91 L128.5,147.91 L129.39,147.92 L130.26,147.93 L131.14,147.93 L132.01,147.94 L132.9,147.95 L133.8,147.97 L134.73,147.99 L135.7,148.02 L136.73,148.04 L137.82,148.06 L139,148.1 L140.27,148.15 L141.68,148.21 L143.26,148.27 L145.06,148.35 L147.13,148.46 L149.6,148.59 L152.57,148.77 L156.28,149.01 L161.03,149.36 L167.39,149.88 L176.27,150.71 L188.9,152.22 L204.02,155.27Z" fill="none" stroke="#00a0ff" stroke-width="0.45" opacity="0.8" clip-path="url(#lftB)"/>
<path d="M229.89,160.4 L234.18,167.64 L231.79,174.61 L214.67,178.25 L192.27,178.05 L178.99,177.98 L170.08,177.93 L163.62,177.9 L158.67,177.88 L154.73,177.86 L151.49,177.84 L148.75,177.83 L146.38,177.82 L144.3,177.8 L142.43,177.79 L140.74,177.78 L139.17,177.78 L137.72,177.77 L136.34,177.76 L135.03,177.75 L133.76,177.74 L132.52,177.74 L131.31,177.73 L130.1,177.72 L128.88,177.72 L127.65,177.71 L126.39,177.7 L125.08,177.69 L123.72,177.69 L122.27,177.68 L120.73,177.67 L119.06,177.66 L117.23,177.64 L115.18,177.63 L112.87,177.62 L110.2,177.6 L107.06,177.58 L103.25,177.55 L98.51,177.52 L92.39,177.45 L88.53,175.75 L87.26,172.86 L85.74,169.96 L83.94,166.97 L81.85,163.82 L79.33,160.4 L76.19,156.59 L71.72,152.11 L76.31,148.84 L85.8,147.53 L94.36,147.17 L100.75,147.06 L105.5,147 L109.18,146.96 L112.14,146.92 L114.6,146.89 L116.69,146.87 L118.5,146.85 L120.11,146.84 L121.55,146.84 L122.87,146.84 L124.08,146.83 L125.22,146.83 L126.29,146.83 L127.32,146.83 L128.31,146.84 L129.28,146.85 L130.23,146.86 L131.17,146.86 L132.12,146.87 L133.08,146.88 L134.06,146.91 L135.08,146.93 L136.13,146.95 L137.25,146.98 L138.43,147.01 L139.71,147.04 L141.09,147.1 L142.62,147.16 L144.34,147.23 L146.29,147.32 L148.55,147.43 L151.23,147.57 L154.45,147.77 L158.48,148.03 L163.66,148.4 L170.58,148.96 L180.27,149.86 L194.06,151.49 L210.61,154.81Z" fill="none" stroke="#00a0ff" stroke-width="0.45" opacity="0.8" clip-path="url(#lftB)"/>
<path d="M236.1,160.4 L240.69,168.09 L238.18,175.51 L219.96,179.37 L196.11,179.16 L181.98,179.07 L172.51,179.01 L165.64,178.98 L160.39,178.95 L156.2,178.93 L152.76,178.91 L149.85,178.89 L147.34,178.88 L145.13,178.87 L143.15,178.85 L141.35,178.84 L139.69,178.83 L138.14,178.83 L136.68,178.82 L135.29,178.81 L133.94,178.8 L132.63,178.79 L131.34,178.79 L130.06,178.78 L128.77,178.77 L127.46,178.76 L126.12,178.75 L124.74,178.75 L123.29,178.74 L121.76,178.73 L120.12,178.72 L118.35,178.71 L116.41,178.7 L114.24,178.68 L111.78,178.67 L108.95,178.65 L105.61,178.63 L101.57,178.6 L96.53,178.57 L90.04,178.5 L85.95,176.69 L84.63,173.61 L83.04,170.53 L81.18,167.36 L78.98,164.02 L76.31,160.4 L72.94,156.36 L68.14,151.61 L72.99,148.13 L83.07,146.74 L92.17,146.37 L98.94,146.26 L103.99,146.2 L107.9,146.15 L111.04,146.11 L113.64,146.09 L115.86,146.07 L117.78,146.05 L119.48,146.04 L121.01,146.03 L122.4,146.03 L123.69,146.03 L124.89,146.02 L126.03,146.02 L127.12,146.03 L128.17,146.04 L129.19,146.05 L130.2,146.05 L131.2,146.06 L132.21,146.07 L133.22,146.08 L134.26,146.11 L135.34,146.13 L136.46,146.16 L137.63,146.18 L138.89,146.21 L140.24,146.25 L141.71,146.31 L143.33,146.37 L145.15,146.45 L147.22,146.54 L149.61,146.66 L152.45,146.81 L155.86,147.02 L160.14,147.29 L165.63,147.69 L172.98,148.28 L183.27,149.23 L197.94,150.95 L215.55,154.47Z" fill="none" stroke="#00a0ff" stroke-width="0.45" opacity="0.8" clip-path="url(#lftB)"/>
<path d="M223.64,202 L213.2,207.77 L194.56,210.98 L179.11,212.29 L168.23,212.76 L160.9,212.99 L155.68,213.12 L151.76,213.2 L148.72,213.26 L146.26,213.3 L144.21,213.33 L142.46,213.36 L140.95,213.38 L139.61,213.4 L138.4,213.42 L137.3,213.43 L136.28,213.44 L135.32,213.44 L134.42,213.45 L133.56,213.46 L132.72,213.47 L131.91,213.47 L131.1,213.48 L130.3,213.47 L129.49,213.47 L128.68,213.47 L127.84,213.47 L126.97,213.46 L126.07,213.46 L125.11,213.46 L124.09,213.45 L122.98,213.44 L121.77,213.42 L120.43,213.41 L118.91,213.39 L117.16,213.36 L115.13,213.32 L112.68,213.26 L109.67,213.18 L105.84,213.07 L100.8,212.88 L94.17,212.48 L85.5,211.61 L76.73,209.59 L80.68,205.5 L83.49,202 L85.78,198.86 L87.73,195.96 L89.41,193.22 L90.84,190.57 L92.03,187.93 L96.21,186.64 L101.59,186.52 L105.89,186.5 L109.34,186.48 L112.2,186.47 L114.61,186.47 L116.71,186.46 L118.56,186.46 L120.21,186.45 L121.72,186.45 L123.12,186.45 L124.42,186.45 L125.65,186.45 L126.82,186.45 L127.96,186.45 L129.07,186.45 L130.16,186.45 L131.24,186.45 L132.33,186.45 L133.44,186.45 L134.58,186.45 L135.75,186.45 L136.98,186.46 L138.28,186.46 L139.67,186.46 L141.18,186.47 L142.83,186.47 L144.68,186.48 L146.76,186.49 L149.17,186.5 L152.01,186.52 L155.44,186.54 L159.72,186.57 L165.24,186.62 L172.75,186.69 L183.64,186.82 L200.84,187.09 L222.12,189.15 L225.43,195.38Z" fill="none" stroke="#00a0ff" stroke-width="0.45" opacity="0.8" clip-path="url(#lftB)"/>
<path d="M232.12,202 L220.68,208.29 L200.28,211.78 L183.39,213.2 L171.51,213.7 L163.51,213.94 L157.83,214.08 L153.57,214.16 L150.26,214.22 L147.58,214.27 L145.36,214.3 L143.46,214.33 L141.82,214.35 L140.37,214.37 L139.06,214.39 L137.86,214.4 L136.75,214.41 L135.72,214.42 L134.74,214.42 L133.8,214.43 L132.89,214.44 L132.01,214.44 L131.13,214.45 L130.27,214.45 L129.39,214.44 L128.51,214.44 L127.6,214.44 L126.66,214.44 L125.68,214.43 L124.64,214.43 L123.53,214.43 L122.33,214.41 L121.02,214.39 L119.56,214.38 L117.91,214.36 L116.01,214.33 L113.8,214.28 L111.14,214.22 L107.87,214.14 L103.7,214.02 L98.22,213.82 L90.99,213.39 L81.53,212.45 L71.97,210.25 L76.36,205.8 L79.47,202 L81.96,198.59 L84.05,195.44 L85.82,192.46 L87.34,189.57 L88.59,186.67 L93.13,185.27 L99,185.15 L103.68,185.12 L107.45,185.11 L110.56,185.1 L113.19,185.09 L115.47,185.09 L117.48,185.08 L119.29,185.08 L120.93,185.08 L122.45,185.08 L123.86,185.08 L125.2,185.08 L126.48,185.08 L127.72,185.08 L128.92,185.08 L130.11,185.08 L131.29,185.08 L132.48,185.08 L133.68,185.08 L134.92,185.08 L136.2,185.08 L137.53,185.08 L138.95,185.09 L140.46,185.09 L142.1,185.09 L143.9,185.1 L145.91,185.11 L148.19,185.11 L150.81,185.13 L153.9,185.14 L157.64,185.17 L162.3,185.2 L168.33,185.25 L176.53,185.32 L188.42,185.45 L207.24,185.73 L230.53,187.97 L234.11,194.77Z" fill="none" stroke="#00a0ff" stroke-width="0.45" opacity="0.8" clip-path="url(#lftB)"/>
<path d="M238.49,202 L226.3,208.68 L204.57,212.38 L186.6,213.88 L173.97,214.41 L165.47,214.66 L159.44,214.8 L154.92,214.88 L151.41,214.94 L148.58,214.99 L146.22,215.02 L144.22,215.05 L142.47,215.08 L140.93,215.1 L139.55,215.12 L138.28,215.13 L137.11,215.14 L136.01,215.14 L134.97,215.15 L133.98,215.16 L133.02,215.17 L132.08,215.17 L131.16,215.18 L130.24,215.18 L129.32,215.17 L128.38,215.17 L127.42,215.17 L126.42,215.17 L125.38,215.16 L124.28,215.16 L123.1,215.16 L121.84,215.14 L120.45,215.12 L118.9,215.1 L117.15,215.08 L115.14,215.05 L112.8,215.01 L109.98,214.95 L106.52,214.86 L102.1,214.73 L96.28,214.53 L88.6,214.07 L78.56,213.08 L68.41,210.75 L73.13,206.03 L76.46,202 L79.1,198.39 L81.28,195.05 L83.14,191.89 L84.71,188.81 L86.01,185.74 L90.82,184.24 L97.06,184.11 L102.03,184.09 L106.03,184.07 L109.33,184.07 L112.12,184.06 L114.54,184.06 L116.68,184.05 L118.59,184.05 L120.34,184.05 L121.94,184.05 L123.45,184.05 L124.87,184.05 L126.22,184.05 L127.53,184.05 L128.81,184.05 L130.07,184.05 L131.33,184.05 L132.59,184.05 L133.86,184.05 L135.17,184.05 L136.53,184.05 L137.95,184.06 L139.45,184.06 L141.06,184.06 L142.8,184.07 L144.71,184.07 L146.84,184.08 L149.25,184.09 L152.03,184.1 L155.32,184.12 L159.29,184.14 L164.23,184.17 L170.64,184.22 L179.35,184.29 L192,184.42 L212.04,184.71 L236.84,187.08 L240.62,194.31Z" fill="none" stroke="#00a0ff" stroke-width="0.45" opacity="0.8" clip-path="url(#lftB)"/>
<mask id="mA2" maskUnits="userSpaceOnUse" x="0" y="0" width="448" height="252"><rect x="165" y="140" width="70" height="80" fill="#fff" opacity="0.45"/><ellipse cx="180" cy="164" rx="15" ry="6" fill="#fff" opacity="0.8"/><ellipse cx="182" cy="192" rx="18" ry="8" fill="#fff" opacity="0.8"/><ellipse cx="200" cy="176" rx="20" ry="4" fill="#fff" opacity="0.5"/><ellipse cx="200" cy="201" rx="20" ry="4" fill="#fff" opacity="0.5"/></mask>
<rect x="165.5" y="140" width="70" height="80" filter="url(#spkA2)" mask="url(#mA2)"/>
<mask id="mR" maskUnits="userSpaceOnUse" x="0" y="0" width="448" height="252"><rect x="165" y="140" width="70" height="80" fill="#fff"/><path d="M70,147.8 L70.97,147.63 L72.22,147.38 L73.75,147.09 L75.56,146.79 L77.64,146.52 L80,146.3 L82.52,146.14 L85.19,146.01 L88.12,145.91 L91.48,145.82 L95.39,145.75 L100,145.7 L105.51,145.64 L111.85,145.56 L118.75,145.5 L125.93,145.49 L133.1,145.54 L140,145.7 L146.78,145.97 L153.7,146.33 L160.62,146.76 L167.41,147.24 L173.91,147.76 L180,148.3 L185.58,148.83 L190.74,149.36 L195.62,149.92 L200.37,150.56 L205.12,151.31 L210,152.2 L215.35,153.36 L221.11,154.8 L226.88,156.34 L232.22,157.83 L236.74,159.11 L240,160 L246,170 L240,180.3 L240,180.3 L235.76,180.26 L230,180.19 L223.12,180.12 L215.56,180.04 L207.71,179.97 L200,179.9 L192.25,179.84 L184.07,179.79 L175.62,179.74 L167.04,179.7 L158.45,179.65 L150,179.6 L141.23,179.55 L131.93,179.49 L122.62,179.44 L113.85,179.39 L106.13,179.34 L100,179.3 L95.66,179.27 L92.74,179.25 L90.88,179.23 L89.7,179.22 L88.87,179.21 L88,179.2 L84.67,178.61 L84.29,177.49 L83.82,176.26 L83.25,174.93 L82.6,173.52 L81.86,172.05 L81.04,170.52 L80.14,168.95 L79.17,167.36 L78.14,165.75 L77.06,164.15 L75.93,162.55 L74.76,160.99 L73.56,159.46 L72.33,157.98 L71.1,156.57 L69.86,155.22 L68.63,153.95 L67.42,152.77 L66.23,151.68 L65.08,150.7Z" stroke="#000" stroke-width="5" fill="none"/><path d="M88,183.6 L88.87,183.58 L89.7,183.54 L90.88,183.5 L92.74,183.46 L95.66,183.42 L100,183.4 L106.13,183.38 L113.85,183.37 L122.62,183.36 L131.93,183.36 L141.23,183.37 L150,183.4 L158.45,183.44 L167.04,183.49 L175.62,183.56 L184.07,183.63 L192.25,183.71 L200,183.8 L207.71,183.91 L215.56,184.04 L223.12,184.18 L230,184.31 L235.76,184.42 L240,184.5 L246,196 L240,207 L240,207 L235.88,207.77 L230.37,208.88 L223.75,210.18 L216.3,211.5 L208.29,212.69 L200,213.6 L190.98,214.23 L180.93,214.7 L170.31,215.05 L159.63,215.3 L149.36,215.47 L140,215.6 L131.38,215.67 L123.07,215.64 L115.19,215.55 L107.81,215.4 L101.05,215.21 L95,215 L89.63,214.72 L84.85,214.36 L80.69,213.96 L77.15,213.57 L74.25,213.23 L72,213 L65.08,211.9 L66.23,210.92 L67.42,209.83 L68.63,208.65 L69.86,207.38 L71.1,206.03 L72.33,204.62 L73.56,203.14 L74.76,201.61 L75.93,200.05 L77.06,198.45 L78.14,196.85 L79.17,195.24 L80.14,193.65 L81.04,192.08 L81.86,190.55 L82.6,189.08 L83.25,187.67 L83.82,186.34 L84.29,185.11 L84.67,183.99Z" stroke="#000" stroke-width="5" fill="none"/><rect x="165" y="176.5" width="70" height="11" fill="#fff"/><rect x="165" y="181.6" width="70" height="1.6" fill="#000"/></mask>
<g clip-path="url(#crb)" mask="url(#mR)"><path d="M236.5,171.5a3.5,1.1 0 1 0 7,0a3.5,1.1 0 1 0 -7,0M234.8,171.5a5.2,1.6 0 1 0 10.5,0a5.2,1.6 0 1 0 -10.5,0M233,171.5a7,2.1 0 1 0 14,0a7,2.1 0 1 0 -14,0M231.2,171.5a8.8,2.6 0 1 0 17.5,0a8.8,2.6 0 1 0 -17.5,0M229.5,171.5a10.5,3.1 0 1 0 21,0a10.5,3.1 0 1 0 -21,0M227.8,171.5a12.2,3.7 0 1 0 24.5,0a12.2,3.7 0 1 0 -24.5,0M226,171.5a14,4.2 0 1 0 28,0a14,4.2 0 1 0 -28,0M224.2,171.5a15.8,4.7 0 1 0 31.5,0a15.8,4.7 0 1 0 -31.5,0M222.5,171.5a17.5,5.2 0 1 0 35,0a17.5,5.2 0 1 0 -35,0M220.8,171.5a19.2,5.8 0 1 0 38.5,0a19.2,5.8 0 1 0 -38.5,0M219,171.5a21,6.3 0 1 0 42,0a21,6.3 0 1 0 -42,0M217.2,171.5a22.8,6.8 0 1 0 45.5,0a22.8,6.8 0 1 0 -45.5,0M215.5,171.5a24.5,7.3 0 1 0 49,0a24.5,7.3 0 1 0 -49,0M213.8,171.5a26.2,7.9 0 1 0 52.5,0a26.2,7.9 0 1 0 -52.5,0M212,171.5a28,8.4 0 1 0 56,0a28,8.4 0 1 0 -56,0M210.2,171.5a29.8,8.9 0 1 0 59.5,0a29.8,8.9 0 1 0 -59.5,0M208.5,171.5a31.5,9.4 0 1 0 63,0a31.5,9.4 0 1 0 -63,0M206.8,171.5a33.2,10 0 1 0 66.5,0a33.2,10 0 1 0 -66.5,0M205,171.5a35,10.5 0 1 0 70,0a35,10.5 0 1 0 -70,0M203.2,171.5a36.8,11 0 1 0 73.5,0a36.8,11 0 1 0 -73.5,0M201.5,171.5a38.5,11.5 0 1 0 77,0a38.5,11.5 0 1 0 -77,0M199.8,171.5a40.2,12.1 0 1 0 80.5,0a40.2,12.1 0 1 0 -80.5,0M198,171.5a42,12.6 0 1 0 84,0a42,12.6 0 1 0 -84,0M196.2,171.5a43.8,13.1 0 1 0 87.5,0a43.8,13.1 0 1 0 -87.5,0M194.5,171.5a45.5,13.7 0 1 0 91,0a45.5,13.7 0 1 0 -91,0M192.8,171.5a47.2,14.2 0 1 0 94.5,0a47.2,14.2 0 1 0 -94.5,0M191,171.5a49,14.7 0 1 0 98,0a49,14.7 0 1 0 -98,0M189.2,171.5a50.8,15.2 0 1 0 101.5,0a50.8,15.2 0 1 0 -101.5,0M236.5,194.5a3.5,1.1 0 1 0 7,0a3.5,1.1 0 1 0 -7,0M234.8,194.5a5.2,1.6 0 1 0 10.5,0a5.2,1.6 0 1 0 -10.5,0M233,194.5a7,2.1 0 1 0 14,0a7,2.1 0 1 0 -14,0M231.2,194.5a8.8,2.6 0 1 0 17.5,0a8.8,2.6 0 1 0 -17.5,0M229.5,194.5a10.5,3.1 0 1 0 21,0a10.5,3.1 0 1 0 -21,0M227.8,194.5a12.2,3.7 0 1 0 24.5,0a12.2,3.7 0 1 0 -24.5,0M226,194.5a14,4.2 0 1 0 28,0a14,4.2 0 1 0 -28,0M224.2,194.5a15.8,4.7 0 1 0 31.5,0a15.8,4.7 0 1 0 -31.5,0M222.5,194.5a17.5,5.2 0 1 0 35,0a17.5,5.2 0 1 0 -35,0M220.8,194.5a19.2,5.8 0 1 0 38.5,0a19.2,5.8 0 1 0 -38.5,0M219,194.5a21,6.3 0 1 0 42,0a21,6.3 0 1 0 -42,0M217.2,194.5a22.8,6.8 0 1 0 45.5,0a22.8,6.8 0 1 0 -45.5,0M215.5,194.5a24.5,7.3 0 1 0 49,0a24.5,7.3 0 1 0 -49,0M213.8,194.5a26.2,7.9 0 1 0 52.5,0a26.2,7.9 0 1 0 -52.5,0M212,194.5a28,8.4 0 1 0 56,0a28,8.4 0 1 0 -56,0M210.2,194.5a29.8,8.9 0 1 0 59.5,0a29.8,8.9 0 1 0 -59.5,0M208.5,194.5a31.5,9.4 0 1 0 63,0a31.5,9.4 0 1 0 -63,0M206.8,194.5a33.2,10 0 1 0 66.5,0a33.2,10 0 1 0 -66.5,0M205,194.5a35,10.5 0 1 0 70,0a35,10.5 0 1 0 -70,0M203.2,194.5a36.8,11 0 1 0 73.5,0a36.8,11 0 1 0 -73.5,0M201.5,194.5a38.5,11.5 0 1 0 77,0a38.5,11.5 0 1 0 -77,0M199.8,194.5a40.2,12.1 0 1 0 80.5,0a40.2,12.1 0 1 0 -80.5,0M198,194.5a42,12.6 0 1 0 84,0a42,12.6 0 1 0 -84,0M196.2,194.5a43.8,13.1 0 1 0 87.5,0a43.8,13.1 0 1 0 -87.5,0M194.5,194.5a45.5,13.7 0 1 0 91,0a45.5,13.7 0 1 0 -91,0M192.8,194.5a47.2,14.2 0 1 0 94.5,0a47.2,14.2 0 1 0 -94.5,0M191,194.5a49,14.7 0 1 0 98,0a49,14.7 0 1 0 -98,0M189.2,194.5a50.8,15.2 0 1 0 101.5,0a50.8,15.2 0 1 0 -101.5,0" fill="none" stroke="#1ef4b0" stroke-width="0.95" opacity="0.95"/></g>
<path d="M84,181 L140,181.3 L166,181.6" stroke="#00a0ff" stroke-width="1.6" opacity="0.55" fill="none" filter="url(#spkB3)"/>
</g>
<path d="M62.6,152.3 L63.8,153.3 L65.1,154.4 L66.4,155.6 L67.7,157 L69,158.4 L70.4,160 L71.7,161.6 L73,163.3 L74.2,165 L75.4,166.7 L76.6,168.5 L77.6,170.2 L78.6,171.9 L79.5,173.6 L80.3,175.1 L80.9,176.6 L81.5,177.9 L81.9,179.1 L82.2,180.1 L82.4,180.9 L86.8,181.3 L232,181.8" fill="none" stroke="#000" stroke-width="0.45"/>
<path d="M62.6,210.3 L63.8,209.3 L65.1,208.2 L66.4,207 L67.7,205.6 L69,204.2 L70.4,202.6 L71.7,201 L73,199.3 L74.2,197.6 L75.4,195.9 L76.6,194.1 L77.6,192.4 L78.6,190.7 L79.5,189 L80.3,187.5 L80.9,186 L81.5,184.7 L81.9,183.5 L82.2,182.5 L82.4,181.7 L86.8,181.3" fill="none" stroke="#000" stroke-width="0.45"/>
<path d="M63.5,151.2 L64.7,152.2 L66,153.4 L67.3,154.6 L68.7,156 L70.1,157.5 L71.4,159.1 L72.8,160.7 L74.1,162.4 L75.4,164.2 L76.6,166 L77.8,167.7 L78.8,169.5 L79.8,171.2 L80.7,172.9 L81.5,174.5 L82.2,176.1 L82.8,177.4 L83.2,178.7 L83.5,179.8 L83.7,180.7 L89.6,181.3 L232,181.8" fill="none" stroke="#000" stroke-width="0.45"/>
<path d="M63.5,211.4 L64.7,210.4 L66,209.2 L67.3,208 L68.7,206.6 L70.1,205.1 L71.4,203.5 L72.8,201.9 L74.1,200.2 L75.4,198.4 L76.6,196.6 L77.8,194.9 L78.8,193.1 L79.8,191.4 L80.7,189.7 L81.5,188.1 L82.2,186.5 L82.8,185.2 L83.2,183.9 L83.5,182.8 L83.7,181.9 L89.6,181.3" fill="none" stroke="#000" stroke-width="0.45"/>
<ellipse cx="130.7" cy="160.4" rx="6" ry="1.5" fill="#20c0ff"/>
<ellipse cx="130.7" cy="202" rx="6.2" ry="1.5" fill="#20c0ff"/>
<path d="M0,178.3 C2.3,178.2 10,178.3 14,178 C18,177.7 21.4,176.4 24,176.3 C26.6,176.2 28.2,177.9 29.4,177.5 C30.6,177.2 30.4,175.4 31.1,174.2 C31.8,173 32.6,171.7 33.5,170.4 C34.3,169.1 35.3,167.7 36.4,166.4 C37.4,165 38.6,163.6 39.7,162.3 C40.9,161 42.1,159.7 43.3,158.5 C44.5,157.3 45.7,156.2 46.9,155.1 C48.1,154.1 49.3,153.1 50.4,152.3 C51.6,151.5 52.5,151.4 53.6,150.2 C54.7,149.1 55.6,146.8 57,145.4 C58.4,144 59.8,142.5 62,141.9 C64.2,141.3 65.3,141.9 70,141.8 C74.7,141.7 78.3,141.5 90,141.5 C101.7,141.5 123.3,140.9 140,141.6 C156.7,142.3 174.7,143.6 190,145.5 C205.3,147.4 225,151.8 232,153" stroke="#111" stroke-width="0.55" fill="none" opacity="1"/>
<path d="M0,180.6 C2,180.6 8.3,180.5 12,180.3 C15.7,180.1 19,179.4 22,179.2 C25,179 28.5,179.9 30.1,179.4 C31.7,178.9 30.9,177.5 31.4,176.3 C32,175.2 32.8,173.9 33.6,172.6 C34.4,171.2 35.4,169.8 36.5,168.4 C37.5,167 38.7,165.5 39.8,164.2 C41,162.8 42.3,161.4 43.5,160.1 C44.8,158.8 46.1,157.6 47.3,156.5 C48.6,155.4 49.9,154.4 51,153.5 C52.2,152.7 53.1,152.5 54.2,151.4 C55.4,150.2 56.5,147.8 58,146.5 C59.5,145.2 59.3,143.8 63,143.3 C66.7,142.8 72.2,143.5 80,143.4 C87.8,143.3 100,143.1 110,143 C120,142.9 126.7,142.3 140,143 C153.3,143.7 174.7,145 190,147 C205.3,149 225,153.7 232,155" stroke="#111" stroke-width="0.55" fill="none" opacity="1"/>
<path d="M0,184.6 C2.5,184.8 10.8,185 15,186 C19.2,187 22.4,188.8 25,190.5 C27.6,192.2 27.5,193.3 30.5,196 C33.5,198.7 38.8,203 43,206.5 C47.2,210 52.1,214.9 55.9,217 C59.7,219.1 58.6,218.9 66,219.3 C73.3,219.7 87.7,219.1 100,219.3 C112.3,219.5 125,220.4 140,220.3 C155,220.2 174.7,219.7 190,219 C205.3,218.3 225,216.7 232,216.2" stroke="#111" stroke-width="0.55" fill="none" opacity="1"/>
<path d="M0,189.5 C2,189.9 8.4,190.9 12,192 C15.6,193.1 17.3,193.1 21.6,196 C25.9,198.9 32.3,205 38,209.5 C43.7,214 50.6,220.6 55.9,223 C61.2,225.4 62.6,223.9 70,224 C77.3,224.1 88.3,223.4 100,223.5 C111.7,223.6 125,224.5 140,224.5 C155,224.5 174.7,223.8 190,223.5 C205.3,223.2 225,222.6 232,222.4" stroke="#111" stroke-width="0.55" fill="none" opacity="1"/>
<path d="M81,181.3 L80.95,181.62 L80.81,182.23 L80.57,183.03 L80.23,183.99 L79.81,185.06 L79.29,186.24 L78.69,187.51 L78.01,188.84 L77.26,190.23 L76.43,191.66 L75.55,193.12 L74.6,194.59 L73.61,196.06 L72.57,197.52 L71.49,198.96 L70.4,200.36 L69.28,201.72 L68.15,203.03 L67.03,204.26 L65.92,205.42 L64.83,206.5 L63.76,207.49 L62.74,208.38 L61.78,209.16 L60.88,209.84 L60.05,210.39 L59.33,210.83 L58.71,211.15 L58.25,211.34 L58,211.4 L57.71,211.34 L57.16,211.15 L56.44,210.83 L55.59,210.39 L54.62,209.84 L53.57,209.16 L52.43,208.38 L51.23,207.49 L49.99,206.5 L48.71,205.42 L47.4,204.26 L46.08,203.03 L44.76,201.72 L43.45,200.36 L42.16,198.96 L40.9,197.52 L39.68,196.06 L38.51,194.59 L37.4,193.12 L36.36,191.66 L35.39,190.23 L34.51,188.84 L33.71,187.51 L33.01,186.24 L32.4,185.06 L31.9,183.99 L31.51,183.03 L31.23,182.23 L31.06,181.62 L31,181.3 L31.06,180.98 L31.23,180.37 L31.51,179.57 L31.9,178.61 L32.4,177.54 L33.01,176.36 L33.71,175.09 L34.51,173.76 L35.39,172.37 L36.36,170.94 L37.4,169.48 L38.51,168.01 L39.68,166.54 L40.9,165.08 L42.16,163.64 L43.45,162.24 L44.76,160.88 L46.08,159.57 L47.4,158.34 L48.71,157.18 L49.99,156.1 L51.23,155.11 L52.43,154.22 L53.57,153.44 L54.62,152.76 L55.59,152.21 L56.44,151.77 L57.16,151.45 L57.71,151.26 L58,151.2 L58.25,151.26 L58.71,151.45 L59.33,151.77 L60.05,152.21 L60.88,152.76 L61.78,153.44 L62.74,154.22 L63.76,155.11 L64.83,156.1 L65.92,157.18 L67.03,158.34 L68.15,159.57 L69.28,160.88 L70.4,162.24 L71.49,163.64 L72.57,165.08 L73.61,166.54 L74.6,168.01 L75.55,169.48 L76.43,170.94 L77.26,172.37 L78.01,173.76 L78.69,175.09 L79.29,176.36 L79.81,177.54 L80.23,178.61 L80.57,179.57 L80.81,180.37 L80.95,180.98Z" fill="#fff"/>
</g>
<path d="M0.5,22V227.2" stroke="#888" stroke-width="1" opacity="0.45"/>
<path d="M0,22.5H230.8" stroke="#fff" stroke-width="1" opacity="0.25"/>
<rect x="115.6" y="23.8" width="113.6" height="19.7" fill="#fff" stroke="#555" stroke-width="0.6"/>
<rect x="122.2" y="25.2" width="8.5" height="9.1" fill="#0000f0"/>
<rect x="130.7" y="25.2" width="16.2" height="9.1" fill="#00a0ff"/>
<rect x="146.9" y="25.2" width="16.7" height="9.1" fill="#1ef4b0"/>
<rect x="163.6" y="25.2" width="17.1" height="9.1" fill="#00f000"/>
<rect x="180.7" y="25.2" width="16.8" height="9.1" fill="#aaff00"/>
<rect x="197.5" y="25.2" width="16.6" height="9.1" fill="#ffaa00"/>
<rect x="214.1" y="25.2" width="8.5" height="9.1" fill="#ff0000"/>
<text x="130.7" y="41.6" font-size="6.2" text-anchor="middle" class="s">0.71</text>
<text x="146.9" y="41.6" font-size="6.2" text-anchor="middle" class="s">0.712</text>
<text x="163.6" y="41.6" font-size="6.2" text-anchor="middle" class="s">0.714</text>
<text x="180.7" y="41.6" font-size="6.2" text-anchor="middle" class="s">0.716</text>
<text x="197.5" y="41.6" font-size="6.2" text-anchor="middle" class="s">0.718</text>
<text x="214.1" y="41.6" font-size="6.2" text-anchor="middle" class="s">0.72</text>
<text x="10.2" y="35.5" font-size="12" font-weight="bold" class="s">(a) Initial shape</text>
<text x="10" y="138.2" font-size="12" font-weight="bold" class="s">(b) Optimized shape</text>
<line x1="231" y1="22.3" x2="448" y2="22.3" stroke="#ddd" stroke-width="0.6"/>
<text x="295.6" y="34.5" font-size="12" font-weight="bold" class="s">(c) Stability analysis</text>
<path d="M268.6,43.5V208.3M276.4,43.5V208.3M284.2,43.5V208.3M291.9,43.5V208.3M299.7,43.5V208.3M307.4,43.5V208.3M315.2,43.5V208.3M323,43.5V208.3M330.7,43.5V208.3M338.5,43.5V208.3M346.2,43.5V208.3M354,43.5V208.3M361.8,43.5V208.3M369.5,43.5V208.3M377.3,43.5V208.3M385,43.5V208.3M392.8,43.5V208.3M400.6,43.5V208.3M408.3,43.5V208.3M416.1,43.5V208.3M423.8,43.5V208.3M431.6,43.5V208.3M260.6,202.8H438.4M260.6,197.3H438.4M260.6,191.8H438.4M260.6,186.3H438.4M260.6,180.8H438.4M260.6,175.2H438.4M260.6,169.7H438.4M260.6,164.2H438.4M260.6,158.7H438.4M260.6,153.2H438.4M260.6,147.7H438.4M260.6,142.2H438.4M260.6,136.7H438.4M260.6,131.2H438.4M260.6,125.7H438.4M260.6,120.1H438.4M260.6,114.6H438.4M260.6,109.1H438.4M260.6,103.6H438.4M260.6,98.1H438.4M260.6,92.6H438.4M260.6,87.1H438.4M260.6,81.6H438.4M260.6,76.1H438.4M260.6,70.6H438.4M260.6,65H438.4M260.6,59.5H438.4M260.6,54H438.4M260.6,48.5H438.4" stroke="#e6e6e6" stroke-width="0.6" fill="none"/>
<path d="M276.4,208.3v-4M315.2,208.3v-4M354,208.3v-4M392.8,208.3v-4M431.6,208.3v-4M260.6,208.3h4M260.6,180.8h4M260.6,153.2h4M260.6,125.6h4M260.6,98.1h4M260.6,70.6h4M260.6,43h4" stroke="#222" stroke-width="1" fill="none"/>
<path d="M260.6,202.8h1.8M260.6,197.3h1.8M260.6,191.8h1.8M260.6,186.3h1.8M260.6,175.2h1.8M260.6,169.7h1.8M260.6,164.2h1.8M260.6,158.7h1.8M260.6,147.7h1.8M260.6,142.2h1.8M260.6,136.7h1.8M260.6,131.2h1.8M260.6,120.1h1.8M260.6,114.6h1.8M260.6,109.1h1.8M260.6,103.6h1.8M260.6,92.6h1.8M260.6,87.1h1.8M260.6,81.6h1.8M260.6,76.1h1.8M260.6,65h1.8M260.6,59.5h1.8M260.6,54h1.8M260.6,48.5h1.8" stroke="#333" stroke-width="0.7" fill="none"/>
<line x1="392.8" y1="43.5" x2="392.8" y2="208.3" stroke="#111" stroke-width="0.8"/>
<path d="M386,43.2 C386.2,46.8 386.8,57.2 387.3,65 C387.8,72.8 388.5,83 388.9,90 C389.3,97 389.5,100.8 389.8,107 C390.1,113.2 390.6,121.5 390.8,127 C391,132.5 390.9,135.8 390.9,140 C390.8,144.2 390.9,147 390.5,152 C390.1,157 389,164.5 388.5,170 C388,175.5 387.7,180.8 387.3,185 C386.9,189.2 386.6,191.1 386.3,195 C386,198.9 385.6,206.1 385.5,208.3" stroke="#d40000" stroke-width="2.4" fill="none"/>
<path d="M386,43.2 C386.2,46.8 386.8,57.2 387.3,65 C387.8,72.8 388.5,83 388.9,90 C389.3,97 389.5,100.8 389.8,107 C390.1,113.2 390.6,121.5 390.8,127 C391,132.5 390.9,135.8 390.9,140 C390.8,144.2 390.9,147 390.5,152 C390.1,157 389,164.5 388.5,170 C388,175.5 387.7,180.8 387.3,185 C386.9,189.2 386.6,191.1 386.3,195 C386,198.9 385.6,206.1 385.5,208.3" stroke="#600" stroke-width="2.2" fill="none" stroke-dasharray="0.6 1.4" opacity="0.6"/>
<path d="M388.3,43.2 C388.5,46.8 389.1,57.2 389.6,65 C390.1,72.8 390.7,83 391.2,90 C391.7,97 391.8,100.8 392.4,107 C393,113.2 394.1,121.5 394.8,127 C395.6,132.5 396.4,136.2 396.9,140 C397.4,143.8 397.6,146.7 397.7,150 C397.8,153.3 397.7,156.7 397.3,160 C396.9,163.3 396.3,166 395.3,170 C394.3,174 392.4,180 391.3,184 C390.2,188 389.4,189.9 388.8,194 C388.2,198.1 387.7,205.9 387.5,208.3" stroke="#1414ff" stroke-width="3.2" fill="none"/>
<rect x="260.6" y="43.5" width="84" height="23.6" fill="#fff" stroke="#999" stroke-width="0.5"/>
<circle cx="281.2" cy="52.3" r="1.4" fill="#d00000"/>
<rect x="280" y="61.1" width="2.5" height="2.5" fill="#1010ff"/>
<text x="305.8" y="55.2" font-size="8" font-weight="bold" class="s">Initial</text>
<text x="305.8" y="65.2" font-size="8" font-weight="bold" class="s">Optimized</text>
<rect x="260.6" y="43.5" width="177.8" height="164.8" fill="none" stroke="#3a3a3a" stroke-width="1.2"/>
<ellipse cx="273.2" cy="154.6" rx="5.4" ry="2.9" fill="#d00000"/>
<ellipse cx="311.2" cy="163.8" rx="6.8" ry="3.1" fill="#1010ff"/><ellipse cx="311.6" cy="163.8" rx="3" ry="0.85" fill="#b8b8ff"/>
<line x1="287.5" y1="145.3" x2="281.1" y2="149.7" stroke="#000" stroke-width="1.3"/><path d="M278.6,151.4 L280.4,148.7 L281.8,150.7 Z" fill="#000"/>
<line x1="302.7" y1="149.1" x2="306.2" y2="154.9" stroke="#000" stroke-width="1.3"/><path d="M307.8,157.5 L305.2,155.6 L307.3,154.3 Z" fill="#000"/>
<line x1="413.5" y1="86" x2="397" y2="100.4" stroke="#000" stroke-width="1.3"/><path d="M394.7,102.4 L396.2,99.5 L397.7,101.3 Z" fill="#000"/>
<line x1="415.5" y1="191.8" x2="397.9" y2="182" stroke="#000" stroke-width="1.3"/><path d="M395.3,180.5 L398.5,180.9 L397.3,183 Z" fill="#000"/>
<text x="357.9" y="69.6" font-size="16.8" class="s">SM</text>
<text x="287.4" y="126.7" font-size="16" class="s">FM</text>
<text x="397.7" y="82.6" font-size="11" font-style="italic" class="s">U<tspan dy="-4" font-size="6">*</tspan><tspan dy="4">=7.95</tspan></text>
<text x="394.6" y="203.1" font-size="11" font-style="italic" class="s">U<tspan dy="-4" font-size="6">*</tspan><tspan dy="4">=13.06</tspan></text>
<text x="276.4" y="216.7" font-size="8" text-anchor="middle" class="s">-0.15</text>
<text x="315.2" y="216.7" font-size="8" text-anchor="middle" class="s">-0.1</text>
<text x="354" y="216.7" font-size="8" text-anchor="middle" class="s">-0.05</text>
<text x="392.8" y="216.7" font-size="8" text-anchor="middle" class="s">0</text>
<text x="431.6" y="216.7" font-size="8" text-anchor="middle" class="s">0.05</text>
<text x="258.8" y="211.1" font-size="8" font-weight="bold" text-anchor="end" class="s">0.4</text>
<text x="258.8" y="183.6" font-size="8" font-weight="bold" text-anchor="end" class="s">0.5</text>
<text x="258.8" y="156" font-size="8" font-weight="bold" text-anchor="end" class="s">0.6</text>
<text x="258.8" y="128.5" font-size="8" font-weight="bold" text-anchor="end" class="s">0.7</text>
<text x="258.8" y="100.9" font-size="8" font-weight="bold" text-anchor="end" class="s">0.8</text>
<text x="258.8" y="73.4" font-size="8" font-weight="bold" text-anchor="end" class="s">0.9</text>
<text x="258.8" y="45.8" font-size="8" font-weight="bold" text-anchor="end" class="s">1</text>
<text x="349.8" y="227.3" font-size="12" text-anchor="middle" class="s">Re(λ)</text>
<text transform="translate(243.8,125.8) rotate(-90)" font-size="12" font-weight="bold" text-anchor="middle" class="s">Im(λ)</text>
</svg>
</body></html>
